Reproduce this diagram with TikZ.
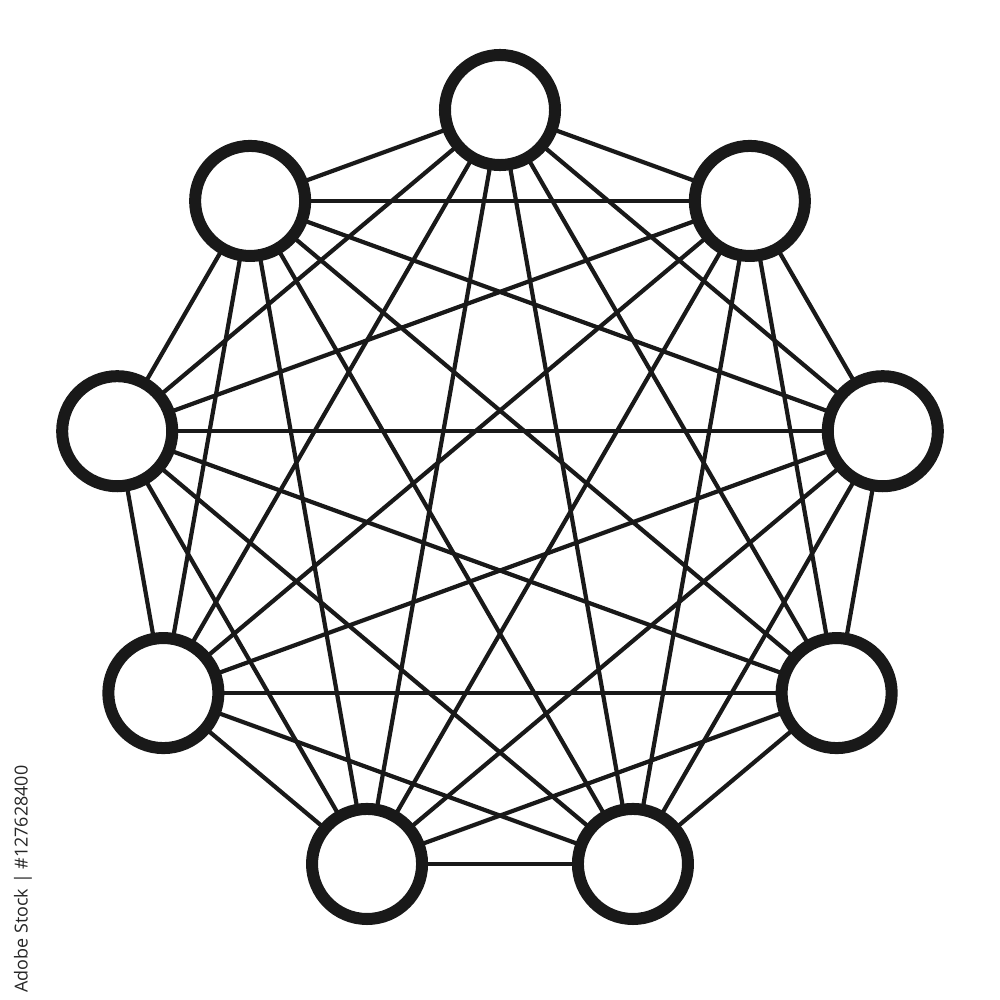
\documentclass[tikz,border=0pt]{standalone}
\usepackage{fontspec}
\newfontfamily\wmfont{Open Sans}
\begin{document}
\begin{tikzpicture}[x=0.01cm,y=-0.01cm,
  vertex/.style={circle,draw=black!90,fill=white,line width=0.12cm,minimum size=1.1cm,inner sep=0pt},
  edge/.style={draw=black!90,line width=0.042cm}]
\fill[white] (0,0) rectangle (1000,1000);
\useasboundingbox (0,0) rectangle (1000,1000);
\foreach \i in {0,...,8}{
  \coordinate (p\i) at ({500+388.7*cos(90+40*\i)},{498.7-388.7*sin(90+40*\i)});
}
\foreach \i in {0,...,7}{
  \pgfmathtruncatemacro{\s}{\i+1}
  \foreach \j in {\s,...,8}{
    \draw[edge] (p\i) -- (p\j);
  }
}
\foreach \i in {0,...,8}{
  \node[vertex] (n\i) at (p\i) {};
}
\node[rotate=90,text=black!85,font=\wmfont\fontsize{5.1pt}{6pt}\selectfont,inner sep=0pt] (wm) at (23,879) {Adobe Stock | \#127628400};
\end{tikzpicture}
\end{document}
